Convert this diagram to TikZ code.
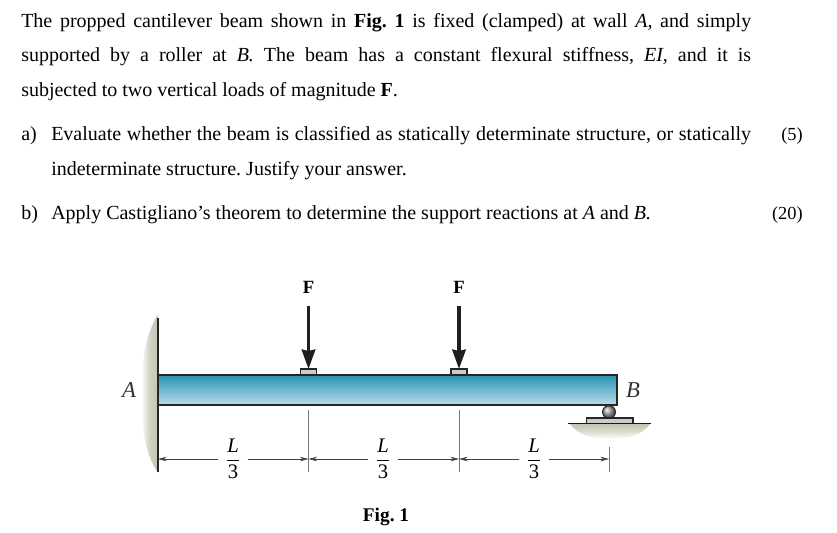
\documentclass[tikz,border=0pt]{standalone}
\usepackage{amsmath}
\usepackage{fontspec}
\setmainfont{Liberation Serif}
\usetikzlibrary{arrows.meta}
\definecolor{beamtop}{RGB}{38,148,178}
\definecolor{beambot}{RGB}{186,220,234}
\definecolor{wallgray}{RGB}{196,196,178}
\definecolor{platefill}{RGB}{200,204,204}
\definecolor{dimgray}{RGB}{120,120,120}
\frenchspacing
\tikzset{
  bodytext/.style={anchor=base west,inner sep=0pt,font=\fontsize{15pt}{18pt}\selectfont},
  marktext/.style={anchor=base east,inner sep=0pt,font=\fontsize{13.8pt}{16pt}\selectfont},
  loadlabel/.style={inner sep=0.75pt,font=\fontsize{14pt}{16pt}\selectfont\bfseries},
  endlabel/.style={inner sep=0.75pt,font=\fontsize{17pt}{19pt}\selectfont\itshape,color=black!80},
  lengthlabel/.style={inner sep=0.75pt,font=\fontsize{15.5pt}{18pt}\selectfont},
  loadarrow/.style={line width=2.6pt,-{Triangle[length=14.5pt,width=10pt,inset=1pt]},color=black!88},
  dimline/.style={line width=0.45pt,color=black!75},
  dimtip/.style={-{Stealth[length=6.5pt,width=3.4pt]}},
  extline/.style={line width=0.45pt,color=dimgray},
  plate/.style={draw=black!85,fill=platefill,line width=1pt},
}
\newcommand{\bodyline}[1]{\makebox[547.5pt][s]{#1}}
\newcommand{\itemline}[1]{\makebox[524.8pt][s]{#1}}
\begin{document}
\begin{tikzpicture}[x=0.75pt,y=0.75pt,yscale=-1,xscale=1]
\useasboundingbox (0,0) rectangle (837,532);

% Text Node
\node (introa) [bodytext] at (21,27) {\bodyline{The propped cantilever beam shown in \textbf{Fig.~1} is fixed (clamped) at wall \textit{A,} and simply}};
\node (introb) [bodytext] at (21,61) {\bodyline{supported by a roller at \textit{B.} The beam has a constant flexural stiffness, \textit{EI,} and it is}};
\node (introc) [bodytext] at (21,96) {subjected to two vertical loads of magnitude \textbf{F}.};
\node (itema) [bodytext] at (21,140) {a)};
\node (itemaa) [bodytext] at (51,140) {\itemline{Evaluate whether the beam is classified as statically determinate structure, or statically}};
\node (itemab) [bodytext] at (51,175) {indeterminate structure. Justify your answer.};
\node (itemb) [bodytext] at (21,219) {b)};
\node (itemba) [bodytext] at (51,219) {Apply Castigliano’s theorem to determine the support reactions at \textit{A} and \textit{B.}};
\node (marka) [marktext] at (803,140) {(5)};
\node (markb) [marktext] at (803,219) {(20)};

%Shape: Wall shade
\shade [left color=white,right color=wallgray,middle color=wallgray!75] (157.5,315) .. controls (146,335) and (141,360) .. (141,395) .. controls (141,430) and (146,455) .. (157.5,472) -- cycle ;
%Shape: Ground shade
\shade [top color=wallgray,bottom color=white,middle color=wallgray!60] (570,424) .. controls (578,435) and (592,439) .. (610,439) .. controls (628,439) and (642,435) .. (650,424) -- cycle ;

%Shape: Beam
\node (beam) [anchor=north west,minimum width=344.25pt,minimum height=22.5pt,inner sep=0pt,outer sep=0pt,draw=black!85,line width=1pt,top color=beamtop,bottom color=beambot] at (158,375) {};

%Straight Lines: wall
\coordinate (walltop) at (158,318);
\coordinate (wallbot) at (158,472);
\draw [line width=1pt,black!85] (walltop) -- (wallbot) ;

%Shape: Plates
\node (plateone) [plate,anchor=south,minimum width=12pt,minimum height=4.5pt,inner sep=0pt,outer sep=0pt] at (308.5,375) {};
\node (platetwo) [plate,anchor=south,minimum width=12pt,minimum height=4.5pt,inner sep=0pt,outer sep=0pt] at (459,375) {};

%Shape: Roller support
\node (roller) [circle,draw=black!85,line width=0.8pt,inner sep=0pt,minimum size=9.6pt,ball color=black!35,shading=ball] at (609,412) {};
\node (baseplate) [plate,anchor=south,minimum width=35pt,minimum height=4.2pt,inner sep=0pt,outer sep=0pt] at (609.5,423.5) {};
\coordinate (groundl) at (568,423.5);
\coordinate (groundr) at (651,423.5);
\draw [line width=1pt,black!90] (groundl) -- (groundr) ;

%Straight Lines: loads
\node (loadone) [loadlabel] at (308.5,287) {F};
\node (loadtwo) [loadlabel] at (459,287) {F};
\coordinate (startone) at (308.5,306);
\coordinate (starttwo) at (459,306);
\draw [loadarrow] (startone) -- (plateone.north) ;
\draw [loadarrow] (starttwo) -- (platetwo.north) ;

% Text Node
\node (enda) [endlabel] at (129,390) {A};
\node (endb) [endlabel] at (633,390) {B};
\node (figlabel) [inner sep=0.75pt,font=\fontsize{14.5pt}{16pt}\selectfont\bfseries] at (386,517) {Fig. 1};

%Straight Lines: extension lines
\coordinate (extaa) at (308.5,410);
\coordinate (extab) at (308.5,472);
\coordinate (extba) at (459,410);
\coordinate (extbb) at (459,472);
\coordinate (extca) at (609,447);
\coordinate (extcb) at (609,472);
\draw [extline] (extaa) -- (extab) ;
\draw [extline] (extba) -- (extbb) ;
\draw [extline] (extca) -- (extcb) ;

% Text Node
\node (lenone) [lengthlabel] at (233,459) {$\dfrac{\textit{L}}{\textrm{3}}$};
\node (lentwo) [lengthlabel] at (383,459) {$\dfrac{\textit{L}}{\textrm{3}}$};
\node (lenthree) [lengthlabel] at (534,459) {$\dfrac{\textit{L}}{\textrm{3}}$};

%Straight Lines: dimension lines
\coordinate (wallmid) at (158,459);
\coordinate (dimone) at (308.5,459);
\coordinate (dimtwo) at (459,459);
\coordinate (dimthree) at (609,459);
\draw [dimline,dimtip] (lenone.west) ++(-6,0) coordinate (lenonel) -- (wallmid) ;
\draw [dimline,dimtip] (lenone.east) ++(6,0) coordinate (lenoner) -- (dimone) ;
\draw [dimline,dimtip] (lentwo.west) ++(-6,0) coordinate (lentwol) -- (dimone) ;
\draw [dimline,dimtip] (lentwo.east) ++(6,0) coordinate (lentwor) -- (dimtwo) ;
\draw [dimline,dimtip] (lenthree.west) ++(-6,0) coordinate (lenthreel) -- (dimtwo) ;
\draw [dimline,dimtip] (lenthree.east) ++(6,0) coordinate (lenthreer) -- (dimthree) ;

\end{tikzpicture}
\end{document}
